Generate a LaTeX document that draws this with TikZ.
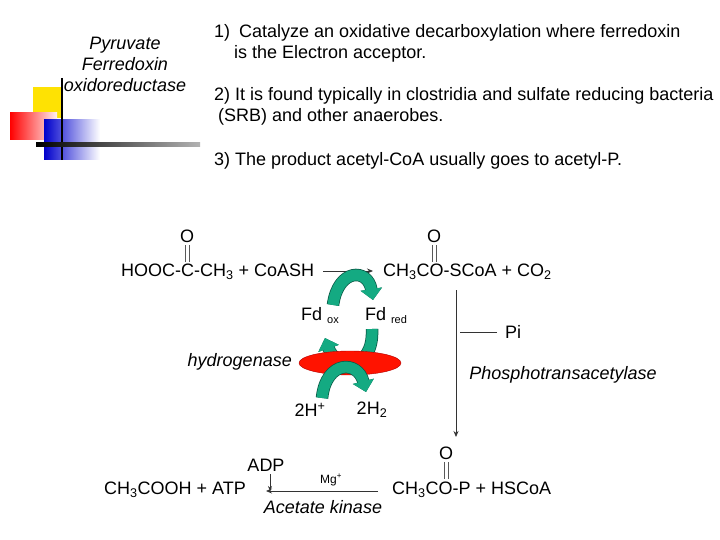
\documentclass[tikz,border=0pt]{standalone}
\usepackage{fontspec}
\setmainfont{Liberation Sans}
\usetikzlibrary{arrows.meta,shadings,shapes.geometric}
\definecolor{teal1}{RGB}{20,170,130}
\definecolor{tealdark}{RGB}{10,90,70}
\begin{document}
\begin{tikzpicture}[x=1pt,y=-1pt,
  t/.style={inner sep=0pt,font=\fontsize{18}{21}\selectfont},
  ti/.style={t,font=\fontsize{18}{21}\selectfont\itshape},
  sm/.style={inner sep=0pt,font=\fontsize{12}{14}\selectfont},
  bond/.style={line width=0.8pt,gray!70!black},
  rx/.style={-{Stealth[length=6pt,width=5pt]},line width=0.8pt,black!80},
  curl/.style={line width=11pt,teal1,-{Triangle[length=11pt,width=21pt]}},
]
\useasboundingbox (0,0) rectangle (720,540);
% decoration
\fill[yellow!85!orange] (33,87) rectangle (62,118);
\shade[left color=red, right color=red!5] (10,113) rectangle (57,140);
\shade[left color=blue!80!black, right color=white] (44,120) rectangle (100,160);
\draw[line width=2pt] (62,78) -- (62,160);
\shade[left color=black, right color=gray!60] (36,143) rectangle (200,147);
% title
\node[ti,align=center] (title) at (125,64) {Pyruvate\\Ferredoxin\\oxidoreductase};
\node[t,anchor=west] (l1) at (214,33) {1)\hspace{9pt}Catalyze an oxidative decarboxylation where ferredoxin};
\node[t,anchor=west] (l1b) at (234,54) {is the Electron acceptor.};
\node[t,anchor=west] (l2) at (214,96) {2) It is found typically in clostridia and sulfate reducing bacteria};
\node[t,anchor=west] (l2b) at (218,117) {(SRB) and other anaerobes.};
\node[t,anchor=west] (l3) at (214,161) {3) The product acetyl-CoA usually goes to acetyl-P.};
% top reaction
\node[t,anchor=west] (pyr) at (121,272) {HOOC-C-CH\textsubscript{3} + CoASH};
\node[t] (o1) at (187,236) {O};
\draw[bond] (185,245) -- (185,262) (189,245) -- (189,262);
\node[t,anchor=west] (acoa) at (383,272) {CH\textsubscript{3}CO-SCoA + CO\textsubscript{2}};
\node[t] (o2) at (434,236) {O};
\draw[bond] (432,245) -- (432,262) (436,245) -- (436,262);
\coordinate (r1s) at (323,271);
\coordinate (r1e) at (373,271);
\draw[rx] (r1s) -- (r1e);
% curls
\draw[curl,tealdark,line width=12.5pt] (333,305) .. controls (338,268) and (368,268) .. (373,300);
\draw[curl] (333,305) .. controls (338,268) and (368,268) .. (373,300);
\node[t] (fdox) at (320,316) {Fd \raisebox{-3pt}{\fontsize{11}{13}\selectfont ox}};
\node[t] (fdred) at (386,316) {Fd \raisebox{-3pt}{\fontsize{11}{13}\selectfont red}};
\node[ti,anchor=east] (hyd) at (292,362) {hydrogenase};
\draw[curl,tealdark,line width=12.5pt] (372,329) .. controls (374,372) and (336,370) .. (325,338);
\draw[curl] (372,329) .. controls (374,372) and (336,370) .. (325,338);
\node[ellipse,fill=red!85!orange,draw=red!70!black,minimum width=102pt,minimum height=24pt,inner sep=0pt] (ell) at (350,363) {};
\draw[curl,tealdark,line width=12.5pt] (322,398) .. controls (326,360) and (358,360) .. (366,392);
\draw[curl] (322,398) .. controls (326,360) and (358,360) .. (366,392);
\node[t] (h) at (310,410) {2H\textsuperscript{+}};
\node[t] (h2) at (372,410) {2H\textsubscript{2}};
% phosphotransacetylase
\coordinate (v1) at (456,290);
\coordinate (v2) at (456,437);
\draw[rx] (v1) -- (v2);
\node[t] (pi) at (513,332) {Pi};
\draw[line width=0.8pt,black!80] (497,332) -- (460,332);
\node[ti] (pta) at (563,375) {Phosphotransacetylase};
% bottom
\node[t,anchor=west] (acp) at (392,490) {CH\textsubscript{3}CO-P + HSCoA};
\node[t] (o3) at (446,453) {O};
\draw[bond] (444,462) -- (444,479) (448,462) -- (448,479);
\node[t,anchor=west] (ac) at (104,490) {CH\textsubscript{3}COOH + ATP};
\coordinate (b1) at (378,491);
\coordinate (b2) at (266,491);
\draw[rx] (b1) -- (b2);
\node[t] (adp) at (266,465) {ADP};
\draw[rx,-{Stealth[length=5pt,width=4pt]}] (270,474) -- (270,491);
\node[sm] (mg) at (331,480) {Mg\textsuperscript{+}};
\node[ti] (ak) at (323,507) {Acetate kinase};
\end{tikzpicture}
\end{document}
